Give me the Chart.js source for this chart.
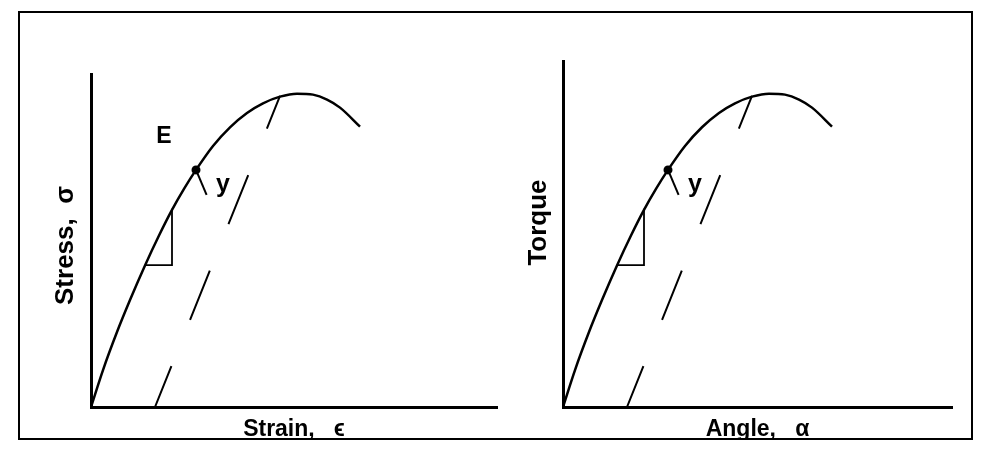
<!DOCTYPE html>
<html>
<head>
<meta charset="utf-8">
<script src="https://cdn.jsdelivr.net/npm/chart.js@4.4.1/dist/chart.umd.min.js"></script>
<style>
  body { margin: 0; background: #fff; }
  #frame { position: absolute; left: 18px; top: 11px; width: 951px; height: 425px; border: 2px solid #000; }
  .box { position: absolute; top: 0; }
</style>
</head>
<body>
<div id="frame">
  <div class="box" style="left:0"><canvas id="chart1" width="490" height="425"></canvas></div>
  <div class="box" style="left:490px"><canvas id="chart2" width="461" height="425"></canvas></div>
</div>
<script>
"use strict";

// loading curve (same shape in both panels)
var strain = [0, 3, 6.5, 9.75, 13.5, 17, 20.25, 23.25, 26.25, 30.5, 34.75, 39, 43, 47.25, 51.5, 55.5, 59, 62.25, 67.25];
var stress = [0, 11.1, 22.5, 32.1, 42.5, 51.5, 59.2, 65.5, 71.2, 78.4, 84.0, 88.3, 91.2, 93.2, 94.1, 93.8, 92.3, 89.9, 84.2];

// unloading line (dashed)
var unloadX = [16, 47.25];
var unloadY = [0, 93.4];

// slope triangle for E
var slopeX = [13.5, 20.25, 20.25];
var slopeY = [42.6, 42.6, 59.5];

// yield point and its pointer
var yieldX = [26.25];
var yieldY = [71.2];
var pointerX = [26.25, 28.9];
var pointerY = [71.2, 63.7];

var font = '"Liberation Sans", Arial, Helvetica, sans-serif';

function pts(xs, ys) {
    var out = [];
    for (var i = 0; i < xs.length; i++) {
        out.push({ x: xs[i], y: ys[i] });
    }
    return out;
}

// text labels placed at data positions, plus the rotated y axis title
var notesPlugin = {
    id: 'notes',
    afterDatasetsDraw: function (chart, args, opts) {
        var ctx = chart.ctx;
        var xs = chart.scales.x, ys = chart.scales.y;
        ctx.save();
        ctx.fillStyle = '#000';
        ctx.textAlign = 'center';
        ctx.textBaseline = 'alphabetic';
        (opts.items || []).forEach(function (n) {
            ctx.font = 'bold ' + n.size + 'px ' + font;
            ctx.fillText(n.text, xs.getPixelForValue(n.x), ys.getPixelForValue(n.y));
        });
        var t = opts.yTitle;
        if (t) {
            ctx.translate(chart.chartArea.left - t.gap, ys.getPixelForValue(t.at));
            ctx.rotate(-Math.PI / 2);
            ctx.textBaseline = 'middle';
            ctx.font = 'bold ' + t.size + 'px ' + font;
            ctx.fillText(t.text, 0, 0);
        }
        ctx.restore();
    }
};

function makeChart(id, cfg) {
    var ctx = document.getElementById(id).getContext('2d');
    return new Chart(ctx, {
        type: 'line',
        data: {
            datasets: [{
                data: pts(strain, stress),
                borderColor: '#000',
                borderWidth: 2.5,
                cubicInterpolationMode: 'monotone',
                pointRadius: 0,
                fill: false
            }, {
                data: pts(unloadX, unloadY),
                borderColor: '#000',
                borderWidth: 2,
                borderDash: [53, 50],
                borderDashOffset: 9,
                pointRadius: 0,
                fill: false
            }, {
                data: pts(slopeX, slopeY),
                borderColor: '#000',
                borderWidth: 1.8,
                pointRadius: 0,
                fill: false
            }, {
                data: pts(pointerX, pointerY),
                borderColor: '#000',
                borderWidth: 2,
                pointRadius: 0,
                fill: false
            }, {
                data: pts(yieldX, yieldY),
                showLine: false,
                pointRadius: 4.5,
                pointBackgroundColor: '#000',
                pointBorderColor: '#000',
                pointBorderWidth: 0
            }]
        },
        options: {
            responsive: false,
            animation: false,
            events: [],
            layout: { padding: cfg.padding },
            plugins: {
                legend: { display: false },
                tooltip: { enabled: false },
                notes: { items: cfg.notes, yTitle: cfg.yTitle }
            },
            scales: {
                x: {
                    type: 'linear',
                    min: 0,
                    max: cfg.xMax,
                    ticks: { display: false },
                    grid: { display: false, drawTicks: false },
                    border: { display: true, color: '#000', width: 3 },
                    title: {
                        display: true,
                        text: cfg.xTitle,
                        color: '#000',
                        font: { family: font, size: 23, weight: 'bold', lineHeight: 1 },
                        padding: { top: 0, bottom: -3 }
                    },
                    afterFit: function (s) { s.height = 31; }
                },
                y: {
                    type: 'linear',
                    min: 0,
                    max: cfg.yMax,
                    ticks: { display: false },
                    grid: { display: false, drawTicks: false },
                    border: { display: true, color: '#000', width: 3 },
                    afterFit: function (s) { s.width = cfg.yWidth; }
                }
            }
        },
        plugins: [notesPlugin]
    });
}

makeChart('chart1', {
    xMax: 101.5,
    yMax: 100,
    xTitle: 'Strain,   \u03F5',
    yTitle: { text: 'Stress,  \u03C3', at: 48.5, gap: 25, size: 26 },
    yWidth: 71,
    padding: { top: 61, right: 13, left: 0, bottom: 0 },
    notes: [
        { text: 'E', x: 18.25, y: 79.2, size: 23 },
        { text: 'y', x: 33, y: 64.6, size: 25 }
    ]
});

makeChart('chart2', {
    xMax: 97.25,
    yMax: 103.9,
    xTitle: 'Angle,   \u03B1',
    yTitle: { text: 'Torque', at: 55.4, gap: 24, size: 26 },
    yWidth: 53,
    padding: { top: 48, right: 19, left: 0, bottom: 0 },
    notes: [
        { text: 'y', x: 33, y: 64.6, size: 25 }
    ]
});
</script>
</body>
</html>
